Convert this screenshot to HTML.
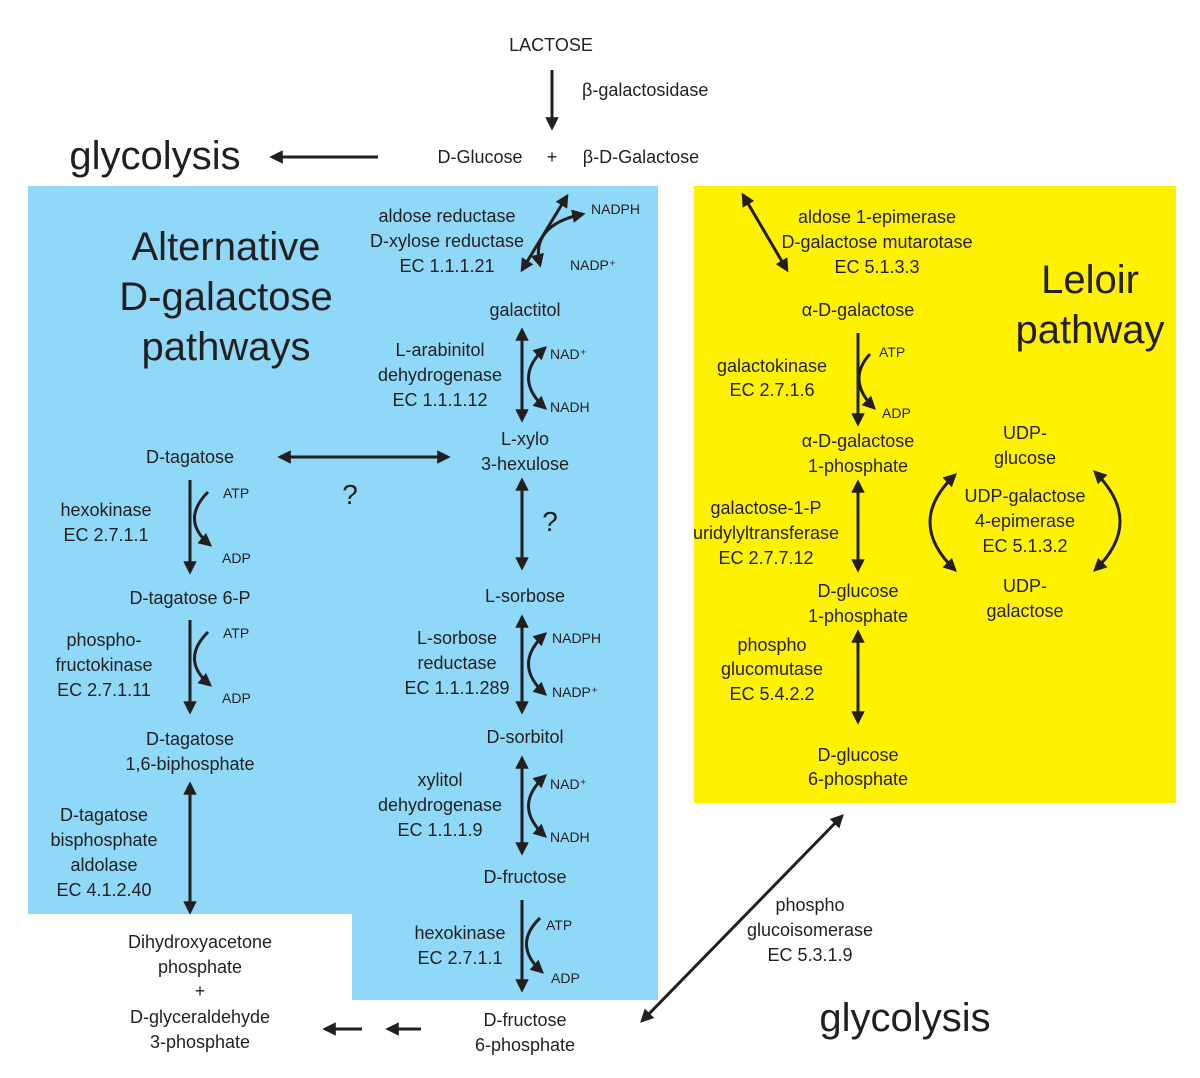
<!DOCTYPE html>
<html><head><meta charset="utf-8"><style>
html,body{margin:0;padding:0;background:#fff}
svg{display:block}
text{font-family:"Liberation Sans",sans-serif;fill:#231f20;text-anchor:middle;font-size:18px}
.s{font-size:14px;text-anchor:start}
.b{font-size:40px}
.l{stroke:#231f20;stroke-width:3;fill:none}
</style></head><body>
<svg width="1200" height="1078" viewBox="0 0 1200 1078" xmlns="http://www.w3.org/2000/svg">
<defs>
<marker id="a" viewBox="0 0 10 10" refX="8" refY="5" markerWidth="4.5" markerHeight="4.5" orient="auto-start-reverse"><path d="M0,0 L10,5 L0,10 z" fill="#231f20"/></marker>
</defs>
<polygon points="28,186 658,186 658,1000 352,1000 352,914 28,914" fill="#8fd8f8"/>
<rect x="694" y="186" width="482" height="617" fill="#fff200"/>

<!-- top -->
<text x="551" y="51">LACTOSE</text>
<line class="l" x1="552" y1="70" x2="552" y2="128" stroke-width="5" marker-end="url(#a)"/>
<text x="582" y="96" style="text-anchor:start">β-galactosidase</text>
<text x="480" y="163">D-Glucose</text><text x="552" y="163">+</text><text x="641" y="163">β-D-Galactose</text>
<text class="b" x="155" y="169">glycolysis</text>
<line class="l" x1="378" y1="157" x2="272" y2="157" marker-end="url(#a)"/>

<!-- blue title -->
<text class="b" x="226" y="260">Alternative</text>
<text class="b" x="226" y="310">D-galactose</text>
<text class="b" x="226" y="360">pathways</text>

<text x="447" y="222">aldose reductase</text>
<text x="447" y="247">D-xylose reductase</text>
<text x="447" y="272">EC 1.1.1.21</text>
<line class="l" x1="522" y1="270" x2="567" y2="196" marker-start="url(#a)" marker-end="url(#a)"/>
<path class="l" d="M540,265 Q530,225 583,214" marker-start="url(#a)" marker-end="url(#a)"/>
<text class="s" x="591" y="214">NADPH</text>
<text class="s" x="570" y="270">NADP⁺</text>

<text x="525" y="316">galactitol</text>
<text x="440" y="356">L-arabinitol</text><text x="440" y="381">dehydrogenase</text><text x="440" y="406">EC 1.1.1.12</text>
<line class="l" x1="522" y1="330" x2="522" y2="420" marker-start="url(#a)" marker-end="url(#a)"/>
<path class="l" d="M545,348 Q512,378 545,408" marker-start="url(#a)" marker-end="url(#a)"/>
<text class="s" x="550" y="359">NAD⁺</text><text class="s" x="550" y="412">NADH</text>

<text x="525" y="445">L-xylo</text><text x="525" y="470">3-hexulose</text>
<text x="190" y="463">D-tagatose</text>
<line class="l" x1="280" y1="457" x2="448" y2="457" marker-start="url(#a)" marker-end="url(#a)"/>
<text x="350" y="504" style="font-size:28px">?</text>
<text x="550" y="531" style="font-size:28px">?</text>
<line class="l" x1="522" y1="480" x2="522" y2="568" marker-start="url(#a)" marker-end="url(#a)"/>

<text x="106" y="516">hexokinase</text><text x="106" y="541">EC 2.7.1.1</text>
<line class="l" x1="190" y1="480" x2="190" y2="572" marker-end="url(#a)"/>
<path class="l" d="M208,492 Q180,520 210,545" marker-end="url(#a)"/>
<text class="s" x="223" y="498">ATP</text><text class="s" x="222" y="563">ADP</text>

<text x="190" y="604">D-tagatose 6-P</text>
<text x="104" y="646">phospho-</text><text x="104" y="671">fructokinase</text><text x="104" y="696">EC 2.7.1.11</text>
<line class="l" x1="190" y1="620" x2="190" y2="712" marker-end="url(#a)"/>
<path class="l" d="M208,632 Q180,660 210,685" marker-end="url(#a)"/>
<text class="s" x="223" y="638">ATP</text><text class="s" x="222" y="703">ADP</text>

<text x="190" y="745">D-tagatose</text><text x="190" y="770">1,6-biphosphate</text>
<text x="104" y="821">D-tagatose</text><text x="104" y="846">bisphosphate</text><text x="104" y="871">aldolase</text><text x="104" y="896">EC 4.1.2.40</text>
<line class="l" x1="190" y1="784" x2="190" y2="912" marker-start="url(#a)" marker-end="url(#a)"/>

<text x="200" y="948">Dihydroxyacetone</text><text x="200" y="973">phosphate</text><text x="200" y="997">+</text>
<text x="200" y="1023">D-glyceraldehyde</text><text x="200" y="1048">3-phosphate</text>

<text x="525" y="602">L-sorbose</text>
<text x="457" y="644">L-sorbose</text><text x="457" y="669">reductase</text><text x="457" y="694">EC 1.1.1.289</text>
<line class="l" x1="522" y1="617" x2="522" y2="712" marker-start="url(#a)" marker-end="url(#a)"/>
<path class="l" d="M545,634 Q512,664 545,694" marker-start="url(#a)" marker-end="url(#a)"/>
<text class="s" x="552" y="643">NADPH</text><text class="s" x="552" y="697">NADP⁺</text>

<text x="525" y="743">D-sorbitol</text>
<text x="440" y="786">xylitol</text><text x="440" y="811">dehydrogenase</text><text x="440" y="836">EC 1.1.1.9</text>
<line class="l" x1="522" y1="758" x2="522" y2="853" marker-start="url(#a)" marker-end="url(#a)"/>
<path class="l" d="M545,776 Q512,806 545,836" marker-start="url(#a)" marker-end="url(#a)"/>
<text class="s" x="550" y="789">NAD⁺</text><text class="s" x="550" y="842">NADH</text>

<text x="525" y="883">D-fructose</text>
<text x="460" y="939">hexokinase</text><text x="460" y="964">EC 2.7.1.1</text>
<line class="l" x1="522" y1="900" x2="522" y2="990" marker-end="url(#a)"/>
<path class="l" d="M540,918 Q512,945 542,972" marker-end="url(#a)"/>
<text class="s" x="546" y="930">ATP</text><text class="s" x="551" y="983">ADP</text>

<text x="525" y="1026">D-fructose</text><text x="525" y="1051">6-phosphate</text>
<line class="l" x1="421" y1="1029" x2="388" y2="1029" marker-end="url(#a)"/>
<line class="l" x1="362" y1="1029" x2="325" y2="1029" marker-end="url(#a)"/>

<line class="l" x1="642" y1="1021" x2="842" y2="816" stroke-width="2.5" marker-start="url(#a)" marker-end="url(#a)"/>
<text x="810" y="911">phospho</text><text x="810" y="936">glucoisomerase</text><text x="810" y="961">EC 5.3.1.9</text>
<text class="b" x="905" y="1031">glycolysis</text>

<!-- yellow -->
<line class="l" x1="743" y1="195" x2="787" y2="270" stroke-width="2.5" marker-start="url(#a)" marker-end="url(#a)"/>
<text x="877" y="223">aldose 1-epimerase</text><text x="877" y="248">D-galactose mutarotase</text><text x="877" y="273">EC 5.1.3.3</text>
<text class="b" x="1090" y="293">Leloir</text><text class="b" x="1090" y="343">pathway</text>
<text x="858" y="316">α-D-galactose</text>
<text x="772" y="372">galactokinase</text><text x="772" y="396">EC 2.7.1.6</text>
<line class="l" x1="858" y1="333" x2="858" y2="424" marker-end="url(#a)"/>
<path class="l" d="M870,354 Q846,380 874,408" marker-end="url(#a)"/>
<text class="s" x="879" y="357">ATP</text><text class="s" x="882" y="418">ADP</text>
<text x="858" y="447">α-D-galactose</text><text x="858" y="472">1-phosphate</text>
<text x="766" y="514">galactose-1-P</text><text x="766" y="539">uridylyltransferase</text><text x="766" y="564">EC 2.7.7.12</text>
<line class="l" x1="858" y1="482" x2="858" y2="570" marker-start="url(#a)" marker-end="url(#a)"/>
<text x="858" y="597">D-glucose</text><text x="858" y="622">1-phosphate</text>
<text x="772" y="651">phospho</text><text x="772" y="675">glucomutase</text><text x="772" y="700">EC 5.4.2.2</text>
<line class="l" x1="858" y1="632" x2="858" y2="722" marker-start="url(#a)" marker-end="url(#a)"/>
<text x="858" y="761">D-glucose</text><text x="858" y="785">6-phosphate</text>
<text x="1025" y="439">UDP-</text><text x="1025" y="464">glucose</text>
<text x="1025" y="502">UDP-galactose</text><text x="1025" y="527">4-epimerase</text><text x="1025" y="552">EC 5.1.3.2</text>
<text x="1025" y="592">UDP-</text><text x="1025" y="617">galactose</text>
<path class="l" d="M955,475 Q905,522 955,570" marker-start="url(#a)" marker-end="url(#a)"/>
<path class="l" d="M1095,472 Q1145,522 1095,570" marker-start="url(#a)" marker-end="url(#a)"/>
</svg>
</body></html>
